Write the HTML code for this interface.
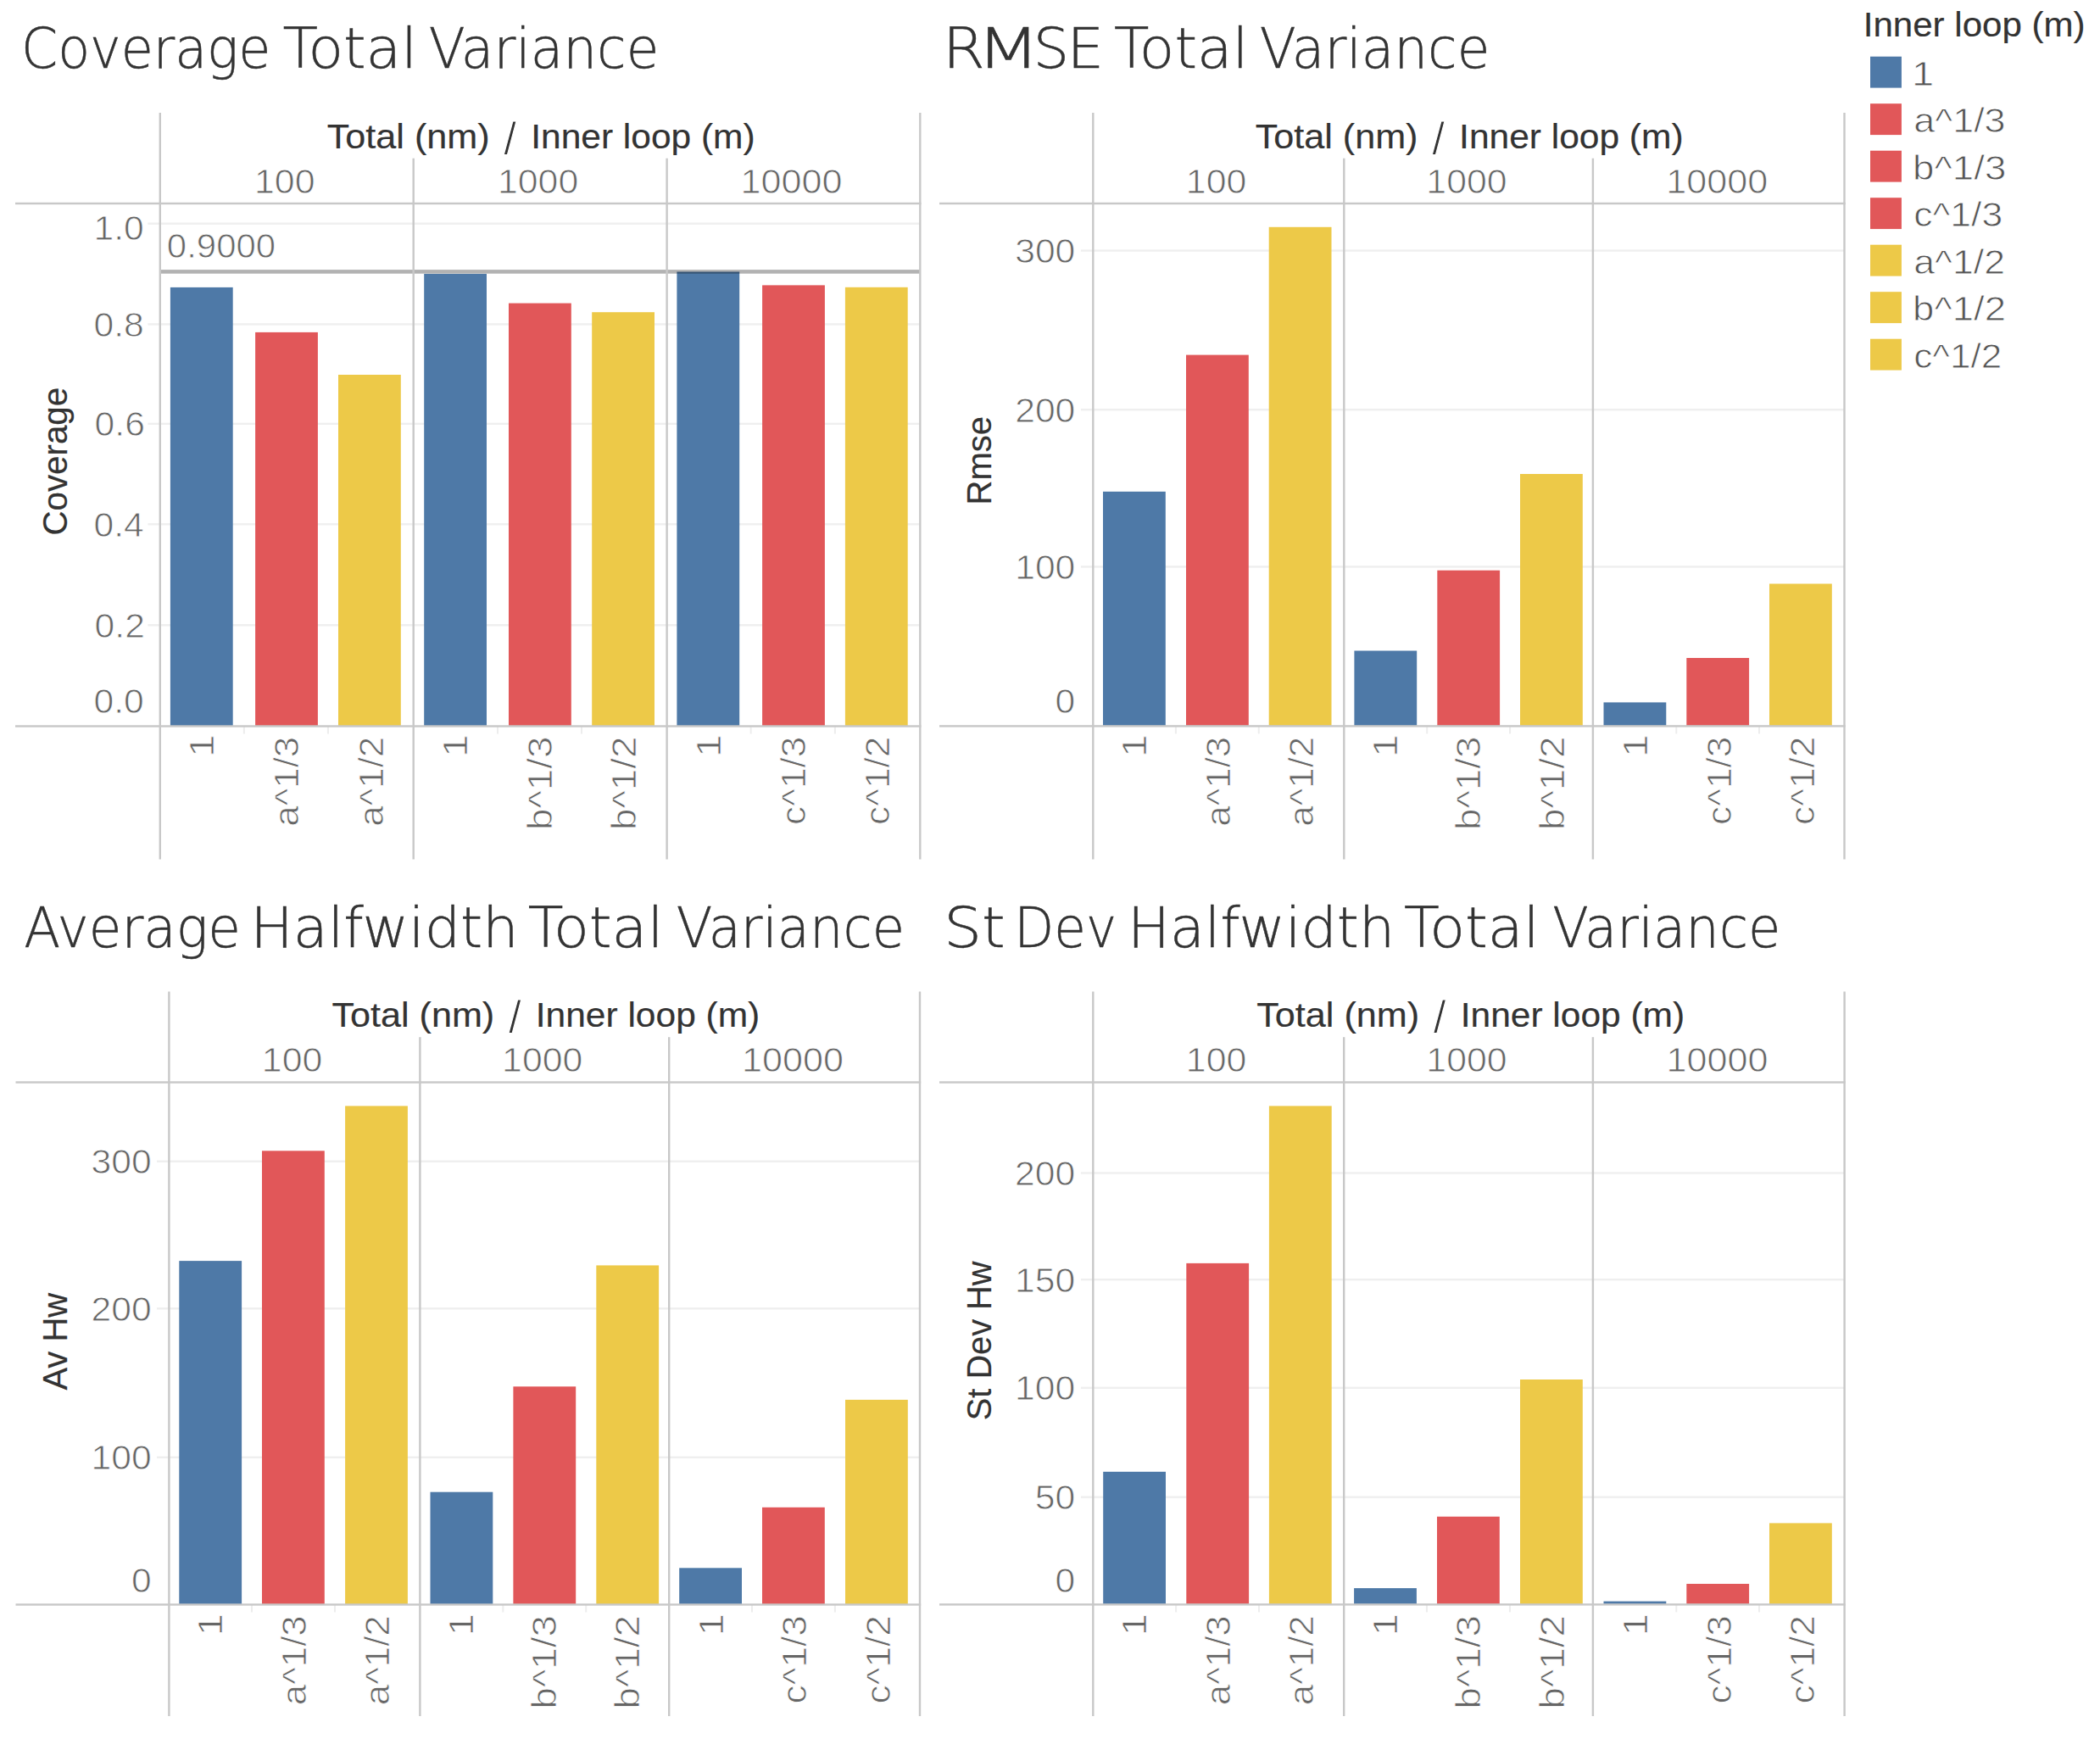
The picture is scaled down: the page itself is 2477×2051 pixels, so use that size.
<!DOCTYPE html>
<html><head><meta charset="utf-8"><title>Total Variance Dashboard</title>
<style>
html,body{margin:0;padding:0;background:#fff;}
body{width:2477px;height:2051px;overflow:hidden;}
svg{display:block;}
</style></head>
<body>
<svg width="2477" height="2051" viewBox="0 0 2477 2051" font-family="'Liberation Sans', Arial, sans-serif" font-size="40" fill="#666666">
<rect x="0" y="0" width="2477" height="2051" fill="#ffffff"/>
<rect x="174.40" y="262.50" width="910.90" height="2.40" fill="#efefef"/>
<rect x="174.40" y="381.20" width="910.90" height="2.40" fill="#efefef"/>
<rect x="174.40" y="498.60" width="910.90" height="2.40" fill="#efefef"/>
<rect x="174.40" y="617.10" width="910.90" height="2.40" fill="#efefef"/>
<rect x="174.40" y="736.10" width="910.90" height="2.40" fill="#efefef"/>
<rect x="200.90" y="338.90" width="73.80" height="517.60" fill="#4e79a7"/>
<rect x="301.10" y="391.90" width="73.80" height="464.60" fill="#e15759"/>
<rect x="399.00" y="442.00" width="73.80" height="414.50" fill="#edc948"/>
<rect x="500.20" y="323.00" width="73.80" height="533.50" fill="#4e79a7"/>
<rect x="600.00" y="357.60" width="73.80" height="498.90" fill="#e15759"/>
<rect x="698.20" y="368.20" width="73.80" height="488.30" fill="#edc948"/>
<rect x="798.40" y="320.50" width="73.80" height="536.00" fill="#4e79a7"/>
<rect x="899.10" y="336.40" width="73.80" height="520.10" fill="#e15759"/>
<rect x="996.90" y="338.80" width="73.80" height="517.70" fill="#edc948"/>
<rect x="190.00" y="318.10" width="895.30" height="4.60" fill="rgba(0,0,0,0.3)"/>
<rect x="286.90" y="856.50" width="2.00" height="9.00" fill="#ededed"/>
<rect x="385.95" y="856.50" width="2.00" height="9.00" fill="#ededed"/>
<rect x="586.00" y="856.50" width="2.00" height="9.00" fill="#ededed"/>
<rect x="685.00" y="856.50" width="2.00" height="9.00" fill="#ededed"/>
<rect x="884.65" y="856.50" width="2.00" height="9.00" fill="#ededed"/>
<rect x="983.90" y="856.50" width="2.00" height="9.00" fill="#ededed"/>
<rect x="187.60" y="133.00" width="2.40" height="880.50" fill="#c8c8c8"/>
<rect x="1084.10" y="133.00" width="2.40" height="880.50" fill="#c8c8c8"/>
<rect x="486.50" y="186.70" width="2.40" height="826.80" fill="#c8c8c8"/>
<rect x="785.40" y="186.70" width="2.40" height="826.80" fill="#c8c8c8"/>
<rect x="18.00" y="238.80" width="1068.50" height="2.40" fill="#c8c8c8"/>
<rect x="18.00" y="855.30" width="1068.50" height="2.40" fill="#c8c8c8"/>
<rect x="1274.90" y="294.40" width="900.60" height="2.40" fill="#efefef"/>
<rect x="1274.90" y="482.00" width="900.60" height="2.40" fill="#efefef"/>
<rect x="1274.90" y="667.20" width="900.60" height="2.40" fill="#efefef"/>
<rect x="1301.00" y="579.80" width="73.80" height="276.60" fill="#4e79a7"/>
<rect x="1399.00" y="418.60" width="73.80" height="437.80" fill="#e15759"/>
<rect x="1496.70" y="267.80" width="73.80" height="588.60" fill="#edc948"/>
<rect x="1597.40" y="767.50" width="73.80" height="88.90" fill="#4e79a7"/>
<rect x="1695.30" y="672.70" width="73.80" height="183.70" fill="#e15759"/>
<rect x="1793.00" y="559.00" width="73.80" height="297.40" fill="#edc948"/>
<rect x="1891.50" y="828.40" width="73.80" height="28.00" fill="#4e79a7"/>
<rect x="1989.30" y="776.00" width="73.80" height="80.40" fill="#e15759"/>
<rect x="2087.00" y="688.50" width="73.80" height="167.90" fill="#edc948"/>
<rect x="1385.90" y="856.40" width="2.00" height="9.00" fill="#ededed"/>
<rect x="1483.75" y="856.40" width="2.00" height="9.00" fill="#ededed"/>
<rect x="1682.25" y="856.40" width="2.00" height="9.00" fill="#ededed"/>
<rect x="1780.05" y="856.40" width="2.00" height="9.00" fill="#ededed"/>
<rect x="1976.30" y="856.40" width="2.00" height="9.00" fill="#ededed"/>
<rect x="2074.05" y="856.40" width="2.00" height="9.00" fill="#ededed"/>
<rect x="1288.10" y="133.00" width="2.40" height="880.50" fill="#c8c8c8"/>
<rect x="2174.30" y="133.00" width="2.40" height="880.50" fill="#c8c8c8"/>
<rect x="1584.10" y="186.70" width="2.40" height="826.80" fill="#c8c8c8"/>
<rect x="1877.70" y="186.70" width="2.40" height="826.80" fill="#c8c8c8"/>
<rect x="1108.00" y="238.80" width="1068.70" height="2.40" fill="#c8c8c8"/>
<rect x="1108.00" y="855.20" width="1068.70" height="2.40" fill="#c8c8c8"/>
<rect x="185.00" y="1368.50" width="900.00" height="2.40" fill="#efefef"/>
<rect x="185.00" y="1542.10" width="900.00" height="2.40" fill="#efefef"/>
<rect x="185.00" y="1717.60" width="900.00" height="2.40" fill="#efefef"/>
<rect x="211.30" y="1487.10" width="73.80" height="405.40" fill="#4e79a7"/>
<rect x="309.00" y="1357.30" width="73.80" height="535.20" fill="#e15759"/>
<rect x="407.10" y="1304.40" width="73.80" height="588.10" fill="#edc948"/>
<rect x="507.50" y="1759.70" width="73.80" height="132.80" fill="#4e79a7"/>
<rect x="605.40" y="1635.30" width="73.80" height="257.20" fill="#e15759"/>
<rect x="703.30" y="1492.40" width="73.80" height="400.10" fill="#edc948"/>
<rect x="801.20" y="1849.30" width="73.80" height="43.20" fill="#4e79a7"/>
<rect x="899.00" y="1777.80" width="73.80" height="114.70" fill="#e15759"/>
<rect x="997.00" y="1650.90" width="73.80" height="241.60" fill="#edc948"/>
<rect x="296.05" y="1892.50" width="2.00" height="9.00" fill="#ededed"/>
<rect x="393.95" y="1892.50" width="2.00" height="9.00" fill="#ededed"/>
<rect x="592.35" y="1892.50" width="2.00" height="9.00" fill="#ededed"/>
<rect x="690.25" y="1892.50" width="2.00" height="9.00" fill="#ededed"/>
<rect x="886.00" y="1892.50" width="2.00" height="9.00" fill="#ededed"/>
<rect x="983.90" y="1892.50" width="2.00" height="9.00" fill="#ededed"/>
<rect x="198.20" y="1169.50" width="2.40" height="854.50" fill="#c8c8c8"/>
<rect x="1083.80" y="1169.50" width="2.40" height="854.50" fill="#c8c8c8"/>
<rect x="494.20" y="1223.20" width="2.40" height="800.80" fill="#c8c8c8"/>
<rect x="788.00" y="1223.20" width="2.40" height="800.80" fill="#c8c8c8"/>
<rect x="18.50" y="1275.30" width="1067.70" height="2.40" fill="#c8c8c8"/>
<rect x="18.50" y="1891.30" width="1067.70" height="2.40" fill="#c8c8c8"/>
<rect x="1274.90" y="1382.30" width="900.70" height="2.40" fill="#efefef"/>
<rect x="1274.90" y="1508.00" width="900.70" height="2.40" fill="#efefef"/>
<rect x="1274.90" y="1635.60" width="900.70" height="2.40" fill="#efefef"/>
<rect x="1274.90" y="1764.50" width="900.70" height="2.40" fill="#efefef"/>
<rect x="1301.20" y="1735.80" width="73.80" height="156.60" fill="#4e79a7"/>
<rect x="1399.30" y="1489.90" width="73.80" height="402.50" fill="#e15759"/>
<rect x="1496.90" y="1304.40" width="73.80" height="588.00" fill="#edc948"/>
<rect x="1597.10" y="1873.10" width="73.80" height="19.30" fill="#4e79a7"/>
<rect x="1695.00" y="1788.70" width="73.80" height="103.70" fill="#e15759"/>
<rect x="1793.00" y="1627.00" width="73.80" height="265.40" fill="#edc948"/>
<rect x="1891.50" y="1888.60" width="73.80" height="3.80" fill="#4e79a7"/>
<rect x="1989.30" y="1868.00" width="73.80" height="24.40" fill="#e15759"/>
<rect x="2087.00" y="1796.40" width="73.80" height="96.00" fill="#edc948"/>
<rect x="1386.15" y="1892.40" width="2.00" height="9.00" fill="#ededed"/>
<rect x="1484.00" y="1892.40" width="2.00" height="9.00" fill="#ededed"/>
<rect x="1681.95" y="1892.40" width="2.00" height="9.00" fill="#ededed"/>
<rect x="1779.90" y="1892.40" width="2.00" height="9.00" fill="#ededed"/>
<rect x="1976.30" y="1892.40" width="2.00" height="9.00" fill="#ededed"/>
<rect x="2074.05" y="1892.40" width="2.00" height="9.00" fill="#ededed"/>
<rect x="1288.10" y="1169.50" width="2.40" height="854.50" fill="#c8c8c8"/>
<rect x="2174.40" y="1169.50" width="2.40" height="854.50" fill="#c8c8c8"/>
<rect x="1584.00" y="1223.20" width="2.40" height="800.80" fill="#c8c8c8"/>
<rect x="1877.70" y="1223.20" width="2.40" height="800.80" fill="#c8c8c8"/>
<rect x="1108.00" y="1275.30" width="1068.80" height="2.40" fill="#c8c8c8"/>
<rect x="1108.00" y="1891.20" width="1068.80" height="2.40" fill="#c8c8c8"/>
<rect x="2206.00" y="66.70" width="36.90" height="36.90" fill="#4e79a7"/>
<rect x="2206.00" y="122.20" width="36.90" height="36.90" fill="#e15759"/>
<rect x="2206.00" y="177.70" width="36.90" height="36.90" fill="#e15759"/>
<rect x="2206.00" y="233.20" width="36.90" height="36.90" fill="#e15759"/>
<rect x="2206.00" y="288.70" width="36.90" height="36.90" fill="#edc948"/>
<rect x="2206.00" y="344.20" width="36.90" height="36.90" fill="#edc948"/>
<rect x="2206.00" y="399.70" width="36.90" height="36.90" fill="#edc948"/>
<text x="110.56" y="283.40" textLength="59.28" lengthAdjust="spacingAndGlyphs" font-size="41" stroke="#fff" stroke-width="0.8">1.0</text>
<text x="110.56" y="396.70" textLength="59.28" lengthAdjust="spacingAndGlyphs" font-size="41" stroke="#fff" stroke-width="0.8">0.8</text>
<text x="111.60" y="514.10" textLength="59.28" lengthAdjust="spacingAndGlyphs" font-size="41" stroke="#fff" stroke-width="0.8">0.6</text>
<text x="110.56" y="632.60" textLength="59.28" lengthAdjust="spacingAndGlyphs" font-size="41" stroke="#fff" stroke-width="0.8">0.4</text>
<text x="111.60" y="751.60" textLength="59.28" lengthAdjust="spacingAndGlyphs" font-size="41" stroke="#fff" stroke-width="0.8">0.2</text>
<text x="110.56" y="841.00" textLength="59.28" lengthAdjust="spacingAndGlyphs" font-size="41" stroke="#fff" stroke-width="0.8">0.0</text>
<text x="385.80" y="174.80" textLength="191.80" lengthAdjust="spacingAndGlyphs" fill="#333333" stroke="#333333" stroke-width="0.2">Total (nm)</text>
<text x="594.30" y="181.80" font-size="53" fill="#333333" stroke="#fff" stroke-width="1.0">/</text>
<text x="626.21" y="174.80" textLength="264.45" lengthAdjust="spacingAndGlyphs" fill="#333333" stroke="#333333" stroke-width="0.2">Inner loop (m)</text>
<text x="300.03" y="227.80" textLength="71.47" lengthAdjust="spacingAndGlyphs" font-size="41" stroke="#fff" stroke-width="0.8">100</text>
<text x="586.97" y="227.80" textLength="95.27" lengthAdjust="spacingAndGlyphs" font-size="41" stroke="#fff" stroke-width="0.8">1000</text>
<text x="873.43" y="227.80" textLength="120.00" lengthAdjust="spacingAndGlyphs" font-size="41" stroke="#fff" stroke-width="0.8">10000</text>
<text x="-2.02" y="0.00" textLength="174.77" lengthAdjust="spacingAndGlyphs" transform="translate(79.30,629.60) rotate(-90)" fill="#333333" stroke="#333333" stroke-width="0.2">Coverage</text>
<text x="-13.80" y="0.00" textLength="26.22" lengthAdjust="spacingAndGlyphs" transform="translate(252.31,879.00) rotate(-90)" font-size="41" stroke="#fff" stroke-width="0.8">1</text>
<text x="-1.07" y="0.00" textLength="105.90" lengthAdjust="spacingAndGlyphs" transform="translate(351.92,973.60) rotate(-90)" font-size="41" stroke="#fff" stroke-width="0.8">a^1/3</text>
<text x="-1.07" y="0.00" textLength="105.90" lengthAdjust="spacingAndGlyphs" transform="translate(451.53,973.60) rotate(-90)" font-size="41" stroke="#fff" stroke-width="0.8">a^1/2</text>
<text x="-13.80" y="0.00" textLength="26.22" lengthAdjust="spacingAndGlyphs" transform="translate(551.14,879.00) rotate(-90)" font-size="41" stroke="#fff" stroke-width="0.8">1</text>
<text x="-2.23" y="0.00" textLength="110.23" lengthAdjust="spacingAndGlyphs" transform="translate(650.75,976.70) rotate(-90)" font-size="41" stroke="#fff" stroke-width="0.8">b^1/3</text>
<text x="-2.23" y="0.00" textLength="110.23" lengthAdjust="spacingAndGlyphs" transform="translate(750.36,976.70) rotate(-90)" font-size="41" stroke="#fff" stroke-width="0.8">b^1/2</text>
<text x="-13.80" y="0.00" textLength="26.22" lengthAdjust="spacingAndGlyphs" transform="translate(849.97,879.00) rotate(-90)" font-size="41" stroke="#fff" stroke-width="0.8">1</text>
<text x="-1.08" y="0.00" textLength="104.12" lengthAdjust="spacingAndGlyphs" transform="translate(949.58,971.80) rotate(-90)" font-size="41" stroke="#fff" stroke-width="0.8">c^1/3</text>
<text x="-1.08" y="0.00" textLength="104.12" lengthAdjust="spacingAndGlyphs" transform="translate(1049.19,971.80) rotate(-90)" font-size="41" stroke="#fff" stroke-width="0.8">c^1/2</text>
<text x="24.96" y="79.70" textLength="294.39" lengthAdjust="spacingAndGlyphs" font-family="'DejaVu Sans'" font-weight="200" font-size="65.3" fill="#333333" stroke="#333333" stroke-width="0.5">Coverage</text>
<text x="333.46" y="79.70" textLength="158.57" lengthAdjust="spacingAndGlyphs" font-family="'DejaVu Sans'" font-weight="200" font-size="65.3" fill="#333333" stroke="#333333" stroke-width="0.5">Total</text>
<text x="505.74" y="79.70" textLength="271.58" lengthAdjust="spacingAndGlyphs" font-family="'DejaVu Sans'" font-weight="200" font-size="65.3" fill="#333333" stroke="#333333" stroke-width="0.5">Variance</text>
<text x="1197.19" y="309.90" textLength="71.14" lengthAdjust="spacingAndGlyphs" font-size="41" stroke="#fff" stroke-width="0.8">300</text>
<text x="1197.19" y="497.50" textLength="71.14" lengthAdjust="spacingAndGlyphs" font-size="41" stroke="#fff" stroke-width="0.8">200</text>
<text x="1197.19" y="682.70" textLength="71.14" lengthAdjust="spacingAndGlyphs" font-size="41" stroke="#fff" stroke-width="0.8">100</text>
<text x="1244.62" y="841.00" textLength="23.71" lengthAdjust="spacingAndGlyphs" font-size="41" stroke="#fff" stroke-width="0.8">0</text>
<text x="1480.70" y="175.00" textLength="191.80" lengthAdjust="spacingAndGlyphs" fill="#333333" stroke="#333333" stroke-width="0.2">Total (nm)</text>
<text x="1689.20" y="182.00" font-size="53" fill="#333333" stroke="#fff" stroke-width="1.0">/</text>
<text x="1721.11" y="175.00" textLength="264.45" lengthAdjust="spacingAndGlyphs" fill="#333333" stroke="#333333" stroke-width="0.2">Inner loop (m)</text>
<text x="1398.82" y="227.80" textLength="71.47" lengthAdjust="spacingAndGlyphs" font-size="41" stroke="#fff" stroke-width="0.8">100</text>
<text x="1682.32" y="227.80" textLength="95.27" lengthAdjust="spacingAndGlyphs" font-size="41" stroke="#fff" stroke-width="0.8">1000</text>
<text x="1965.34" y="227.80" textLength="120.00" lengthAdjust="spacingAndGlyphs" font-size="41" stroke="#fff" stroke-width="0.8">10000</text>
<text x="-3.00" y="0.00" transform="translate(1169.20,592.50) rotate(-90)" fill="#333333" stroke="#333333" stroke-width="0.2">Rmse</text>
<text x="-13.80" y="0.00" textLength="26.22" lengthAdjust="spacingAndGlyphs" transform="translate(1352.23,879.00) rotate(-90)" font-size="41" stroke="#fff" stroke-width="0.8">1</text>
<text x="-1.07" y="0.00" textLength="105.90" lengthAdjust="spacingAndGlyphs" transform="translate(1450.70,973.60) rotate(-90)" font-size="41" stroke="#fff" stroke-width="0.8">a^1/3</text>
<text x="-1.07" y="0.00" textLength="105.90" lengthAdjust="spacingAndGlyphs" transform="translate(1549.17,973.60) rotate(-90)" font-size="41" stroke="#fff" stroke-width="0.8">a^1/2</text>
<text x="-13.80" y="0.00" textLength="26.22" lengthAdjust="spacingAndGlyphs" transform="translate(1647.63,879.00) rotate(-90)" font-size="41" stroke="#fff" stroke-width="0.8">1</text>
<text x="-2.23" y="0.00" textLength="110.23" lengthAdjust="spacingAndGlyphs" transform="translate(1746.10,976.70) rotate(-90)" font-size="41" stroke="#fff" stroke-width="0.8">b^1/3</text>
<text x="-2.23" y="0.00" textLength="110.23" lengthAdjust="spacingAndGlyphs" transform="translate(1844.57,976.70) rotate(-90)" font-size="41" stroke="#fff" stroke-width="0.8">b^1/2</text>
<text x="-13.80" y="0.00" textLength="26.22" lengthAdjust="spacingAndGlyphs" transform="translate(1943.03,879.00) rotate(-90)" font-size="41" stroke="#fff" stroke-width="0.8">1</text>
<text x="-1.08" y="0.00" textLength="104.12" lengthAdjust="spacingAndGlyphs" transform="translate(2041.50,971.80) rotate(-90)" font-size="41" stroke="#fff" stroke-width="0.8">c^1/3</text>
<text x="-1.08" y="0.00" textLength="104.12" lengthAdjust="spacingAndGlyphs" transform="translate(2139.97,971.80) rotate(-90)" font-size="41" stroke="#fff" stroke-width="0.8">c^1/2</text>
<text x="1111.85" y="79.70" textLength="50.17" lengthAdjust="spacingAndGlyphs" font-family="'DejaVu Sans'" font-weight="200" font-size="65.3" fill="#333333" stroke="#333333" stroke-width="0.5">R</text>
<text x="1151.58" y="79.70" textLength="75.59" lengthAdjust="spacingAndGlyphs" font-family="'DejaVu Sans'" font-weight="200" font-size="65.3" fill="#333333" stroke="#333333" stroke-width="0.5">M</text>
<text x="1218.89" y="79.70" textLength="42.35" lengthAdjust="spacingAndGlyphs" font-family="'DejaVu Sans'" font-weight="200" font-size="65.3" fill="#333333" stroke="#333333" stroke-width="0.5">S</text>
<text x="1258.59" y="79.70" textLength="43.68" lengthAdjust="spacingAndGlyphs" font-family="'DejaVu Sans'" font-weight="200" font-size="65.3" fill="#333333" stroke="#333333" stroke-width="0.5">E</text>
<text x="1313.96" y="79.70" textLength="158.46" lengthAdjust="spacingAndGlyphs" font-family="'DejaVu Sans'" font-weight="200" font-size="65.3" fill="#333333" stroke="#333333" stroke-width="0.5">Total</text>
<text x="1485.74" y="79.70" textLength="271.58" lengthAdjust="spacingAndGlyphs" font-family="'DejaVu Sans'" font-weight="200" font-size="65.3" fill="#333333" stroke="#333333" stroke-width="0.5">Variance</text>
<text x="107.59" y="1384.00" textLength="71.14" lengthAdjust="spacingAndGlyphs" font-size="41" stroke="#fff" stroke-width="0.8">300</text>
<text x="107.59" y="1557.60" textLength="71.14" lengthAdjust="spacingAndGlyphs" font-size="41" stroke="#fff" stroke-width="0.8">200</text>
<text x="107.59" y="1733.10" textLength="71.14" lengthAdjust="spacingAndGlyphs" font-size="41" stroke="#fff" stroke-width="0.8">100</text>
<text x="155.02" y="1878.30" textLength="23.71" lengthAdjust="spacingAndGlyphs" font-size="41" stroke="#fff" stroke-width="0.8">0</text>
<text x="391.40" y="1211.40" textLength="191.80" lengthAdjust="spacingAndGlyphs" fill="#333333" stroke="#333333" stroke-width="0.2">Total (nm)</text>
<text x="599.90" y="1218.40" font-size="53" fill="#333333" stroke="#fff" stroke-width="1.0">/</text>
<text x="631.81" y="1211.40" textLength="264.45" lengthAdjust="spacingAndGlyphs" fill="#333333" stroke="#333333" stroke-width="0.2">Inner loop (m)</text>
<text x="308.82" y="1264.30" textLength="71.47" lengthAdjust="spacingAndGlyphs" font-size="41" stroke="#fff" stroke-width="0.8">100</text>
<text x="592.12" y="1264.30" textLength="95.27" lengthAdjust="spacingAndGlyphs" font-size="41" stroke="#fff" stroke-width="0.8">1000</text>
<text x="874.94" y="1264.30" textLength="120.00" lengthAdjust="spacingAndGlyphs" font-size="41" stroke="#fff" stroke-width="0.8">10000</text>
<text x="0.00" y="0.00" transform="translate(79.00,1639.60) rotate(-90)" fill="#333333" stroke="#333333" stroke-width="0.2">Av Hw</text>
<text x="-13.80" y="0.00" textLength="26.22" lengthAdjust="spacingAndGlyphs" transform="translate(262.30,1915.50) rotate(-90)" font-size="41" stroke="#fff" stroke-width="0.8">1</text>
<text x="-1.07" y="0.00" textLength="105.90" lengthAdjust="spacingAndGlyphs" transform="translate(360.70,2010.10) rotate(-90)" font-size="41" stroke="#fff" stroke-width="0.8">a^1/3</text>
<text x="-1.07" y="0.00" textLength="105.90" lengthAdjust="spacingAndGlyphs" transform="translate(459.10,2010.10) rotate(-90)" font-size="41" stroke="#fff" stroke-width="0.8">a^1/2</text>
<text x="-13.80" y="0.00" textLength="26.22" lengthAdjust="spacingAndGlyphs" transform="translate(557.50,1915.50) rotate(-90)" font-size="41" stroke="#fff" stroke-width="0.8">1</text>
<text x="-2.23" y="0.00" textLength="110.23" lengthAdjust="spacingAndGlyphs" transform="translate(655.90,2013.20) rotate(-90)" font-size="41" stroke="#fff" stroke-width="0.8">b^1/3</text>
<text x="-2.23" y="0.00" textLength="110.23" lengthAdjust="spacingAndGlyphs" transform="translate(754.30,2013.20) rotate(-90)" font-size="41" stroke="#fff" stroke-width="0.8">b^1/2</text>
<text x="-13.80" y="0.00" textLength="26.22" lengthAdjust="spacingAndGlyphs" transform="translate(852.70,1915.50) rotate(-90)" font-size="41" stroke="#fff" stroke-width="0.8">1</text>
<text x="-1.08" y="0.00" textLength="104.12" lengthAdjust="spacingAndGlyphs" transform="translate(951.10,2008.30) rotate(-90)" font-size="41" stroke="#fff" stroke-width="0.8">c^1/3</text>
<text x="-1.08" y="0.00" textLength="104.12" lengthAdjust="spacingAndGlyphs" transform="translate(1049.50,2008.30) rotate(-90)" font-size="41" stroke="#fff" stroke-width="0.8">c^1/2</text>
<text x="28.34" y="1116.60" textLength="255.67" lengthAdjust="spacingAndGlyphs" font-family="'DejaVu Sans'" font-weight="200" font-size="65.3" fill="#333333" stroke="#333333" stroke-width="0.5">Average</text>
<text x="295.54" y="1116.60" textLength="315.98" lengthAdjust="spacingAndGlyphs" font-family="'DejaVu Sans'" font-weight="200" font-size="65.3" fill="#333333" stroke="#333333" stroke-width="0.5">Halfwidth</text>
<text x="622.75" y="1116.60" textLength="159.73" lengthAdjust="spacingAndGlyphs" font-family="'DejaVu Sans'" font-weight="200" font-size="65.3" fill="#333333" stroke="#333333" stroke-width="0.5">Total</text>
<text x="797.85" y="1116.60" textLength="269.14" lengthAdjust="spacingAndGlyphs" font-family="'DejaVu Sans'" font-weight="200" font-size="65.3" fill="#333333" stroke="#333333" stroke-width="0.5">Variance</text>
<text x="1196.99" y="1397.80" textLength="71.14" lengthAdjust="spacingAndGlyphs" font-size="41" stroke="#fff" stroke-width="0.8">200</text>
<text x="1196.99" y="1523.50" textLength="71.14" lengthAdjust="spacingAndGlyphs" font-size="41" stroke="#fff" stroke-width="0.8">150</text>
<text x="1196.99" y="1651.10" textLength="71.14" lengthAdjust="spacingAndGlyphs" font-size="41" stroke="#fff" stroke-width="0.8">100</text>
<text x="1220.71" y="1780.00" textLength="47.43" lengthAdjust="spacingAndGlyphs" font-size="41" stroke="#fff" stroke-width="0.8">50</text>
<text x="1244.42" y="1878.20" textLength="23.71" lengthAdjust="spacingAndGlyphs" font-size="41" stroke="#fff" stroke-width="0.8">0</text>
<text x="1482.30" y="1211.40" textLength="191.80" lengthAdjust="spacingAndGlyphs" fill="#333333" stroke="#333333" stroke-width="0.2">Total (nm)</text>
<text x="1690.80" y="1218.40" font-size="53" fill="#333333" stroke="#fff" stroke-width="1.0">/</text>
<text x="1722.71" y="1211.40" textLength="264.45" lengthAdjust="spacingAndGlyphs" fill="#333333" stroke="#333333" stroke-width="0.2">Inner loop (m)</text>
<text x="1398.83" y="1264.30" textLength="71.47" lengthAdjust="spacingAndGlyphs" font-size="41" stroke="#fff" stroke-width="0.8">100</text>
<text x="1682.37" y="1264.30" textLength="95.27" lengthAdjust="spacingAndGlyphs" font-size="41" stroke="#fff" stroke-width="0.8">1000</text>
<text x="1965.43" y="1264.30" textLength="120.00" lengthAdjust="spacingAndGlyphs" font-size="41" stroke="#fff" stroke-width="0.8">10000</text>
<text x="-0.99" y="0.00" textLength="187.68" lengthAdjust="spacingAndGlyphs" transform="translate(1169.00,1674.20) rotate(-90)" fill="#333333" stroke="#333333" stroke-width="0.2">St Dev Hw</text>
<text x="-13.80" y="0.00" textLength="26.22" lengthAdjust="spacingAndGlyphs" transform="translate(1352.24,1915.50) rotate(-90)" font-size="41" stroke="#fff" stroke-width="0.8">1</text>
<text x="-1.07" y="0.00" textLength="105.90" lengthAdjust="spacingAndGlyphs" transform="translate(1450.72,2010.10) rotate(-90)" font-size="41" stroke="#fff" stroke-width="0.8">a^1/3</text>
<text x="-1.07" y="0.00" textLength="105.90" lengthAdjust="spacingAndGlyphs" transform="translate(1549.19,2010.10) rotate(-90)" font-size="41" stroke="#fff" stroke-width="0.8">a^1/2</text>
<text x="-13.80" y="0.00" textLength="26.22" lengthAdjust="spacingAndGlyphs" transform="translate(1647.67,1915.50) rotate(-90)" font-size="41" stroke="#fff" stroke-width="0.8">1</text>
<text x="-2.23" y="0.00" textLength="110.23" lengthAdjust="spacingAndGlyphs" transform="translate(1746.15,2013.20) rotate(-90)" font-size="41" stroke="#fff" stroke-width="0.8">b^1/3</text>
<text x="-2.23" y="0.00" textLength="110.23" lengthAdjust="spacingAndGlyphs" transform="translate(1844.63,2013.20) rotate(-90)" font-size="41" stroke="#fff" stroke-width="0.8">b^1/2</text>
<text x="-13.80" y="0.00" textLength="26.22" lengthAdjust="spacingAndGlyphs" transform="translate(1943.11,1915.50) rotate(-90)" font-size="41" stroke="#fff" stroke-width="0.8">1</text>
<text x="-1.08" y="0.00" textLength="104.12" lengthAdjust="spacingAndGlyphs" transform="translate(2041.58,2008.30) rotate(-90)" font-size="41" stroke="#fff" stroke-width="0.8">c^1/3</text>
<text x="-1.08" y="0.00" textLength="104.12" lengthAdjust="spacingAndGlyphs" transform="translate(2140.06,2008.30) rotate(-90)" font-size="41" stroke="#fff" stroke-width="0.8">c^1/2</text>
<text x="1113.19" y="1116.60" textLength="72.52" lengthAdjust="spacingAndGlyphs" font-family="'DejaVu Sans'" font-weight="200" font-size="65.3" fill="#333333" stroke="#333333" stroke-width="0.5">St</text>
<text x="1196.35" y="1116.60" textLength="120.75" lengthAdjust="spacingAndGlyphs" font-family="'DejaVu Sans'" font-weight="200" font-size="65.3" fill="#333333" stroke="#333333" stroke-width="0.5">Dev</text>
<text x="1329.96" y="1116.60" textLength="315.15" lengthAdjust="spacingAndGlyphs" font-family="'DejaVu Sans'" font-weight="200" font-size="65.3" fill="#333333" stroke="#333333" stroke-width="0.5">Halfwidth</text>
<text x="1656.05" y="1116.60" textLength="159.73" lengthAdjust="spacingAndGlyphs" font-family="'DejaVu Sans'" font-weight="200" font-size="65.3" fill="#333333" stroke="#333333" stroke-width="0.5">Total</text>
<text x="1831.15" y="1116.60" textLength="269.24" lengthAdjust="spacingAndGlyphs" font-family="'DejaVu Sans'" font-weight="200" font-size="65.3" fill="#333333" stroke="#333333" stroke-width="0.5">Variance</text>
<text x="196.88" y="304.30" textLength="128.24" lengthAdjust="spacingAndGlyphs" font-size="41" stroke="#fff" stroke-width="0.8">0.9000</text>
<text x="2197.74" y="43.00" textLength="261.90" lengthAdjust="spacingAndGlyphs" fill="#333333" stroke="#333333" stroke-width="0.2">Inner loop (m)</text>
<text x="2255.10" y="100.90" textLength="26.22" lengthAdjust="spacingAndGlyphs" font-size="41" fill="#555555" stroke="#fff" stroke-width="0.8">1</text>
<text x="2257.21" y="156.40" textLength="108.37" lengthAdjust="spacingAndGlyphs" font-size="41" fill="#555555" stroke="#fff" stroke-width="0.8">a^1/3</text>
<text x="2256.07" y="211.90" textLength="110.23" lengthAdjust="spacingAndGlyphs" font-size="41" fill="#555555" stroke="#fff" stroke-width="0.8">b^1/3</text>
<text x="2257.21" y="267.40" textLength="105.04" lengthAdjust="spacingAndGlyphs" font-size="41" fill="#555555" stroke="#fff" stroke-width="0.8">c^1/3</text>
<text x="2257.21" y="322.90" textLength="107.75" lengthAdjust="spacingAndGlyphs" font-size="41" fill="#555555" stroke="#fff" stroke-width="0.8">a^1/2</text>
<text x="2256.08" y="378.40" textLength="109.92" lengthAdjust="spacingAndGlyphs" font-size="41" fill="#555555" stroke="#fff" stroke-width="0.8">b^1/2</text>
<text x="2257.22" y="433.90" textLength="104.22" lengthAdjust="spacingAndGlyphs" font-size="41" fill="#555555" stroke="#fff" stroke-width="0.8">c^1/2</text>
</svg>
</body></html>
